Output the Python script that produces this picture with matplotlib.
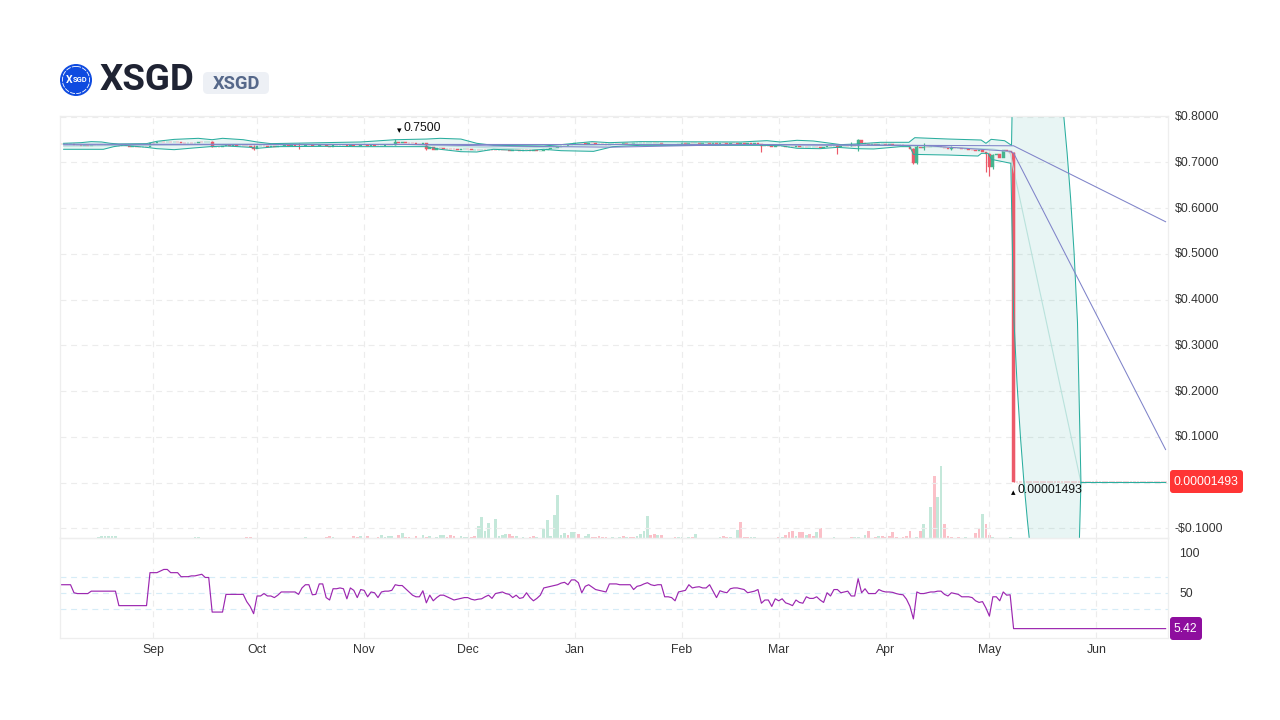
import numpy as np
import matplotlib
matplotlib.use("Agg")
import matplotlib.pyplot as plt
import matplotlib.dates as mdates
from matplotlib.patches import Circle, FancyBboxPatch
from matplotlib.transforms import ScaledTranslation

plt.rcParams['font.family'] = ['Liberation Sans', 'DejaVu Sans']

START = '2024-08-05'
FLAT = 0.00001493

closes = [
 .7395,.7400,.7390,.7395,.7385,.7370,.7365,.7370,.7365,.7375,
 .7370,.7375,.7370,.7375,.7370,.7372,.7385,.7350,.7360,.7365,
 .7340,.7345,.7340,.7338,.7342,.7340,.7430,.7425,.7435,.7440,
 .7438,.7442,.7436,.7440,.7435,.7420,.7415,.7420,.7415,.7425,
 .7440,.7435,.7440,.7445,.7335,.7340,.7335,.7365,.7370,.7365,
 .7370,.7360,.7365,.7360,.7350,.7330,.7290,.7345,.7350,.7345,
 .7340,.7345,.7335,.7360,.7365,.7370,.7365,.7370,.7365,.7345,
 .7365,.7380,.7375,.7350,.7355,.7385,.7380,.7345,.7340,.7375,
 .7370,.7375,.7370,.7345,.7380,.7365,.7345,.7375,.7370,.7345,
 .7370,.7360,.7345,.7365,.7375,.7370,.7380,.7440,.7420,.7435,
 .7430,.7425,.7420,.7405,.7400,.7410,.7280,.7330,.7270,.7320,
 .7310,.7300,.7295,.7285,.7280,.7275,.7280,.7285,.7280,.7270,
 .7275,.7270,.7275,.7265,.7270,.7265,.7260,.7270,.7265,.7260,
 .7255,.7265,.7260,.7255,.7262,.7258,.7255,.7260,.7250,.7255,
 .7265,.7290,.7310,.7320,.7340,.7345,.7350,.7380,.7395,.7410,
 .7420,.7410,.7400,.7420,.7410,.7390,.7400,.7395,.7385,.7400,
 .7405,.7405,.7400,.7410,.7405,.7400,.7410,.7415,.7420,.7415,
 .7418,.7420,.7415,.7425,.7380,.7385,.7380,.7375,.7385,.7405,
 .7410,.7405,.7420,.7410,.7420,.7405,.7410,.7420,.7400,.7410,
 .7405,.7415,.7410,.7405,.7420,.7410,.7405,.7415,.7400,.7410,
 .7405,.7420,.7405,.7345,.7350,.7345,.7340,.7355,.7345,.7350,
 .7335,.7340,.7335,.7345,.7330,.7340,.7325,.7335,.7340,.7325,
 .7320,.7340,.7350,.7345,.7355,.7340,.7345,.7360,.7350,.7375,
 .7355,.7480,.7415,.7405,.7385,.7400,.7380,.7390,.7395,.7380,
 .7395,.7385,.7370,.7375,.7365,.7350,.7300,.6980,.7350,.7320,
 .7360,.7340,.7345,.7350,.7345,.7330,.7315,.7300,.7320,.7305,
 .7310,.7280,.7290,.7275,.7270,.7245,.7260,.7230,.7170,.6890,
 .7150,.7175,.7085,.7260,.7240,.7205,FLAT,
] + [FLAT] * 44

wick_days = [44, 56, 69, 97, 106, 203, 225, 229, 231, 247, 248, 250, 258, 268, 269, 270, 276]
wick_lows = [.7335, .7270, .7280, .7380, .7265, .7220, .7170, .7355, .7253, .6970, .6970, .7275, .7265, .6780, .6690, .6860, FLAT]
wick_highs = [.7455, .7380, .7420, .7500, .7390, .7405, .7370, .7451, .7500, .7310, .7385, .7414, .7365, .7220, .7200, .7170, .7220]

signed_volume = [
 -.3,.3,.3,-.3,-.3,-.3,.3,.3,.3,.3,
 .3,1,2,2,2,2,2,.3,.3,-.3,
 .3,.3,-.3,.3,.3,.3,.3,.3,-.3,-.3,
 -.3,.3,.3,.3,.3,.3,.3,.3,.3,1.5,
 1.5,.3,-.3,-.3,-.3,.3,.3,.3,.3,.3,
 .3,.3,.3,.3,-1.5,-1.5,-.3,.3,.3,.3,
 -.3,-.3,.3,-.3,.3,.3,.3,.3,.3,-.3,
 .3,1,.3,-.3,-.3,.3,-.3,-1.5,-2.5,1.5,
 .3,.3,-.3,-.3,.3,-2.5,-1.5,2.5,.3,-2.5,
 .3,.3,-1.5,3.5,1.5,2,2,.3,-3,5,
 -1.5,-1,.3,-2.5,.3,3.5,-1.5,2.5,.3,1,
 3,3,-1.5,-3,-2,.3,2,1,1,-1,
 -2,12,21,7,15,-.5,19,2,3,4,
 -4,-2,2,-.5,1,-.5,-1,-2,1,.5,
 9,18,2,23,43,3,5,-3,6,6,
 -4,-.5,2,4,-1,-1,-2,-1,-1,.3,
 1,-.5,1,-2,1,-1,-1,2,4,7,
 22,-3,-4,3,-3,-.5,.3,.3,-1,1,
 1,-.3,1,-1,4,.3,.3,-.3,.3,.3,
 -.3,1,-2,-1,1,.3,8,-16,-1,-1,
 1,1,.3,-.3,.3,-.3,.3,-.3,-1,1,
 -3,-6,-7,2,-6,-6,3,-4,-2,6,
 -10,-.3,.3,.3,1,.3,-.3,.3,-.3,-1,
 1,1,-.5,3,-7,-.3,-1,2,-2,-1,
 -2,-6,-1,-.5,-1,-2,-7,.3,1,-7,
 14,.3,31,-62,41,72,-14,-2,-1,.3,
 -1,.3,1,.3,-.3,-5,-9,24,-14,-3,
 1.5,.3,.3,-.3,-.3,.7,-.3,.3,.3,.3,
] + [.3] * 41

rsi = [
 60,60,60,60,50,49,49,49,49,52,
 52,52,52,52,52,52,52,34,34,34,
 34,34,34,34,34,34,75,75,75,77,
 79,79,75,75,75,70,70,70,71,71,
 72,73,69,69,26,26,26,26,48,48,
 48,48,48,48,39,33,24,46,46,49,
 46,46,44,47,51,51,51,51,51,48,
 56,60,60,47.5,48,61,61,44,41,55,
 55,56,55,42.5,56,53,44,54,53,45,
 51,50,44,51,52,52,53,60,59,59,
 55,51,47,45,45,52.5,37.5,47,40,44,
 47,47,45,43,41,42,43,44,44,42,
 41,42,42.5,45,47,43,49,50,51,49,
 48,44,47,43,44,50,44,40,43,47,
 56,57,58,59,60,62,63,60,66,66,
 62.5,50,58,60,57,54,53,52,51,61,
 61,61,60,60,60,60,54,58,59,61,
 62.5,60,59,60,60,45,45,44,40,51,
 52,53,60,56,57,57.5,56,56,60,52,
 44,52.5,51,50,55,56,56,55,54,50,
 51,52,54,37,41,41,33,42.5,40,42.5,
 37.5,36,34,41,38,37,45,43,43,45,
 41,38,50,46,54,54,50,51,52,46,
 46,67.5,50,55,49,49,49,54,52,51,
 51,50.5,49,48,47.5,42,33,17.5,51,49,
 49,50,51,51,52,52,48,46,50,49,
 48,45,45,45,44,40,38,39,31,21,
 45,45,40,51,47,47.5,5.42,
] + [5.42] * 44

upper_days = [1,6,9,12,14.5,17,25,28,33,40,44,47,53,57,61,87,97,106,110,116,120.6,125.4,140,145,154,159,168,197,204.6,208.4,213.3,218,226,230.6,237.5,245.7,247.4,257,266.6,268,269.5,273.4,275.4,
 276,277,278,279,280,281,282,283,286,290.5,291.5,292.5,293.5,294.5,295.5,320]
upper_vals = [.7414,.7428,.7451,.7443,.7414,.7400,.7407,.7458,.7500,.7523,.7493,.7523,.7493,.7443,.7407,.7443,.7493,.7507,.7523,.7507,.7414,.7370,.7356,.7385,.7451,.7428,.7451,.7443,.7472,.7443,.7480,.7465,.7385,.7400,.7436,.7436,.7537,.7508,.7486,.7414,.7501,.7471,.7370,
 .998,1.08,1.126,1.152,1.163,1.164,1.160,1.155,1.080,.803,.720,.622,.504,.350,FLAT,FLAT]
lower_days = [1,6,12.5,15.5,18.3,25,28,33,38.6,43.4,48.3,55,57,62.7,77,87,96.5,106,110,116,120.6,125.4,135,140,145,154.4,160,168,202.6,208.4,213.3,220,225,230.6,235.5,243.2,246,247,257,265.7,266.7,268.6,269.6,270.5,275.2,
 276,277,278,279,280,281,282,283,286,290.5,291.5,292.5,293.5,294.5,295.5,320]
lower_vals = [.7283,.7283,.7283,.7341,.7371,.7326,.7297,.7275,.7312,.7341,.7355,.7326,.7304,.7341,.7348,.7341,.7341,.7341,.7283,.7231,.7224,.7283,.7253,.7283,.7253,.7238,.7341,.7370,.7370,.7363,.7305,.7297,.7326,.7297,.7290,.7341,.7341,.7172,.7158,.7136,.7195,.7195,.7064,.7049,.6977,
 .370,.216,.098,0,-.083,-.156,-.219,-.270,-.360,-.443,-.432,-.406,-.360,-.278,FLAT,FLAT]
middle_days = [1,50,100,130,165,240,270,275,276,295.5]
middle_vals = [.7350,.7395,.7390,.7300,.7400,.7370,.7290,.7220,.6840,FLAT]
ma50_days = [1,60,100,130,160,200,250,275,276,320]
ma50_vals = [.7380,.7385,.7390,.7350,.7330,.7390,.7365,.7240,.7200,.0720]
ma200_days = [1,100,200,276,320]
ma200_vals = [.7395,.7390,.7385,.7360,.5700]

assert len(closes) == 321, len(closes)
assert len(signed_volume) == 321, len(signed_volume)
assert len(rsi) == 321, len(rsi)

y_ticks = [-.1, 0, .1, .2, .3, .4, .5, .6, .7, .8]
y_labels = ['-$0.1000', '', '$0.1000', '$0.2000', '$0.3000', '$0.4000', '$0.5000', '$0.6000', '$0.7000', '$0.8000']
rsi_ticks = [50, 100]
rsi_guides = [30, 50, 70]

W, H = 1280, 720
fig = plt.figure(figsize=(12.8, 7.2), dpi=100, facecolor='white')
def box(l, t, r, b):
    return [l / W, 1 - b / H, (r - l) / W, (b - t) / H]

base = mdates.date2num(np.datetime64(START))
def dx(seq):
    return base + np.asarray(seq, dtype=float)

vol_ax = fig.add_axes(box(60, 116, 1168, 538), zorder=1)
ax = fig.add_axes(box(60, 116, 1168, 538), sharex=vol_ax, zorder=2)
rx = fig.add_axes(box(60, 538, 1168, 638), sharex=vol_ax, zorder=2)
ax.patch.set_alpha(0)
rx.patch.set_alpha(0)
vol_ax.axis('off')

GRID = '#ececec'
for a in (ax, rx):
    for s in a.spines.values():
        s.set_color('#eeeeee')
        s.set_linewidth(0.9)
    a.yaxis.tick_right()
    a.xaxis.set_major_locator(mdates.MonthLocator())
    a.xaxis.set_major_formatter(mdates.DateFormatter('%b'))
    a.grid(axis='x', color=GRID, linestyle=(0, (5, 4)), linewidth=0.85)
    a.set_axisbelow(True)

days = np.arange(len(closes))
vols = np.array(signed_volume)
vol_ax.bar(dx(days), np.abs(vols), width=0.8, color=np.where(vols >= 0, '#c4e8da', '#fbc0c8'), linewidth=0)
vol_ax.set_ylim(0, 422)
vol_ax.set_xlim(base - 0.05, base + 320.7)

# price
ax.set_ylim(-0.1213, 0.8011)
ax.set_yticks(y_ticks, y_labels)
ax.grid(axis='y', color=GRID, linestyle=(0, (5, 4)), linewidth=0.85)
ax.tick_params(axis='both', length=0, labelsize=8.8, labelcolor='#333333', pad=4.8)
ax.tick_params(axis='x', labelbottom=False)
lift = ScaledTranslation(0, 1 / 100, fig.dpi_scale_trans)
for lab in ax.get_yticklabels():
    lab.set_transform(lab.get_transform() + lift)

grid_days = np.arange(0, 320.01, 0.25)
up_line = np.interp(grid_days, upper_days, upper_vals)
lo_line = np.interp(grid_days, lower_days, lower_vals)
ax.fill_between(dx(grid_days), lo_line, up_line, where=grid_days >= 1, color='#009688', alpha=0.09, linewidth=0)
TEAL = '#2aae9f'
ax.plot(dx(middle_days), middle_vals, color='#b9e2dc', linewidth=0.8)

opens = [closes[0] + 0.0005] + closes[:-1]
cl = np.array(closes)
op = np.array(opens)
up = cl > op
UPC, DNC = '#45b58f', '#ec5a6a'
colors = np.where(up, UPC, DNC)
ax.vlines(dx(wick_days), wick_lows, wick_highs, color=[UPC if up[d] else DNC for d in wick_days], linewidth=0.85)
ax.bar(dx(days), np.abs(cl - op), bottom=np.minimum(cl, op), width=0.8, color=colors,
       edgecolor=colors, linewidth=0.3)
ax.plot(dx(upper_days), upper_vals, color=TEAL, linewidth=0.75)
ax.plot(dx(lower_days), lower_vals, color=TEAL, linewidth=0.75)
ax.plot(dx(ma50_days), ma50_vals, color='#7f83c9', linewidth=0.75)
ax.plot(dx(ma200_days), ma200_vals, color='#7f83c9', linewidth=0.75)

ax.text(base + 97.4, 0.7500 + 0.0085, '\u25be', fontsize=6.5, ha='left', va='bottom', color='black', family=['DejaVu Sans'])
ax.text(base + 99.5, 0.7500 + 0.0110, '0.7500', fontsize=8.8, ha='left', va='bottom', color='#111111')
ax.text(base + 275.2, FLAT - 0.012, '\u25b4', fontsize=6.5, ha='left', va='top', color='black', family=['DejaVu Sans'])
ax.text(base + 277.2, FLAT - 0.003, '0.00001493', fontsize=8.8, ha='left', va='top', color='#111111')

# RSI
rx.set_ylim(-6.25, 118.1)
rx.set_yticks(rsi_ticks, [str(t) for t in rsi_ticks])
rx.tick_params(axis='y', length=0, labelsize=8.8, labelcolor='#333333', pad=8.0)
rx.tick_params(axis='x', length=0, labelsize=8.8, labelcolor='#333333', pad=4.5)
for g in rsi_guides:
    rx.axhline(g, color='#d6ecf7', linestyle=(0, (5, 4)), linewidth=0.85, zorder=1)
rx.plot(dx(days), rsi, color='#9c27b0', linewidth=0.85)

# header and value tags
hd = fig.add_axes([0, 0, 1, 1], zorder=5)
hd.set_xlim(0, W)
hd.set_ylim(H, 0)
hd.axis('off')
hd.add_patch(FancyBboxPatch((1170, 470), 73, 23, boxstyle='round,pad=0,rounding_size=3', fc='#ff3535', ec='none'))
hd.text(1173, 482, f'{closes[-1]:.8f}', color='white', fontsize=8.8, ha='left', va='center')
hd.add_patch(FancyBboxPatch((1170, 617), 32, 23, boxstyle='round,pad=0,rounding_size=3', fc='#8e0e9e', ec='none'))
hd.text(1173, 629, f'{rsi[-1]:.2f}', color='white', fontsize=8.8, ha='left', va='center')
hd.add_patch(Circle((76, 80), 16, fc='#0f4be0', ec='none'))
hd.add_patch(Circle((76, 80), 13.6, fc='none', ec='white', lw=0.6, ls=(0, (6, 1.5))))
hd.text(69, 80.3, 'X', color='white', fontsize=7.5, fontweight='bold', family='Roboto', ha='center', va='center')
hd.text(80.5, 80.3, 'SGD', color='white', fontsize=5.4, fontweight='bold', family='Roboto', ha='center', va='center')
hd.text(99.5, 79.5, 'XSGD', color='#1f2333', fontsize=26.5, fontweight='bold', family='Roboto', ha='left', va='center')
hd.add_patch(FancyBboxPatch((203, 72), 66, 22, boxstyle='round,pad=0,rounding_size=5', fc='#edf0f5', ec='none'))
hd.text(236, 84, 'XSGD', color='#56688a', fontsize=13.2, fontweight='bold', family='Roboto', ha='center', va='center')

fig.savefig('out.png', dpi=100)
